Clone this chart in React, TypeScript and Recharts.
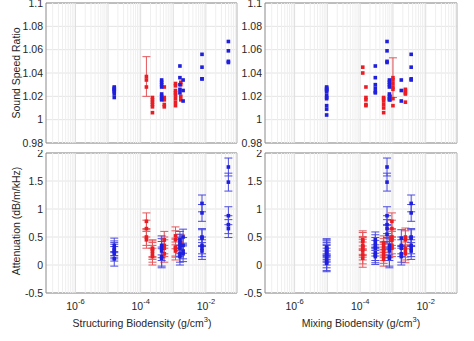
import React from 'react';
import { ScatterChart, Scatter, XAxis, YAxis, CartesianGrid, ErrorBar, ReferenceLine, ReferenceArea } from 'recharts';

const FONT = '"Liberation Sans", Arial, Helvetica, sans-serif';
const BLUE = '#1f1fdc';
const RED = '#ea1d25';
const BLUE_ERR = '#4a4ae0';
const RED_ERR = '#e5565b';
const TEXT = '#262626';

const X_DOMAIN: [number, number] = [1.25e-7, 0.09];
const X_TICKS = [1e-6, 1e-4, 1e-2];
const SSR_TICKS = [0.98, 1, 1.02, 1.04, 1.06, 1.08, 1.1];
const ATT_TICKS = [-0.5, 0, 0.5, 1, 1.5, 2];

// sound speed ratio vs structuring biodensity
const ssrStructBlueX = [1.55e-5, 4.4e-4, 1.6e-3, 2.0e-3, 7.6e-3, 4.9e-2];
const ssrStructBlueY = [
  [1.028, 1.027, 1.026, 1.025, 1.024, 1.022, 1.019],
  [1.034, 1.032, 1.03, 1.028, 1.022, 1.02, 1.018, 1.017],
  [1.046, 1.036, 1.03, 1.026, 1.023],
  [1.034, 1.025, 1.016],
  [1.056, 1.045, 1.035, 1.035],
  [1.067, 1.059, 1.05, 1.049],
];
const ssrStructRedX = [1.5e-4, 2.3e-4, 5.3e-4, 1.17e-3, 1.7e-3];
const ssrStructRedY = [
  [1.034, 1.028],
  [1.019, 1.017, 1.015, 1.013, 1.011, 1.006],
  [1.028, 1.019, 1.017, 1.013, 1.011],
  [1.031, 1.029, 1.025, 1.023, 1.021, 1.018, 1.015, 1.012],
  [1.032, 1.03, 1.02, 1.017],
];
const ssrStructRedErrPoint = { x: 1.5e-4, y: 1.037, err: 0.017 };

// sound speed ratio vs mixing biodensity
const ssrMixBlueX = [9.5e-6, 2.9e-4, 6.6e-4, 7.8e-4, 1.8e-3, 3.6e-3];
const ssrMixBlueY = [
  [1.028, 1.027, 1.026, 1.025, 1.024, 1.021, 1.019, 1.018, 1.012, 1.009, 1.004],
  [1.046, 1.036, 1.03, 1.027, 1.024, 1.023],
  [1.067, 1.059, 1.05, 1.049],
  [1.034, 1.032, 1.03, 1.028, 1.022, 1.02, 1.018, 1.017],
  [1.034, 1.025, 1.016],
  [1.056, 1.045, 1.035, 1.034],
];
const ssrMixRedX = [1.2e-4, 1.5e-4, 5.2e-4, 8.3e-4, 1.0e-3, 2.4e-3];
const ssrMixRedY = [
  [1.045, 1.04],
  [1.028, 1.019, 1.017, 1.013, 1.012],
  [1.019, 1.018, 1.016, 1.013, 1.01, 1.006],
  [1.02, 1.018, 1.017],
  [1.034, 1.031, 1.028, 1.026, 1.018, 1.012],
  [1.026, 1.025, 1.023, 1.022, 1.015],
];
const ssrMixRedErrPoint = { x: 1.0e-3, y: 1.036, err: 0.017 };

// attenuation vs structuring biodensity
const attStructBlueX = [1.55e-5, 4.4e-4, 1.6e-3, 2.0e-3, 7.6e-3, 4.9e-2];
const attStructBlueY = [
  [0.35, 0.3, 0.27, 0.24, 0.2, 0.11],
  [0.35, 0.3, 0.25, 0.15, 0.12],
  [0.45, 0.4, 0.35, 0.3, 0.2, 0.15],
  [0.5, 0.35, 0.25, 0.2],
  [1.1, 0.93, 0.5, 0.48, 0.35, 0.3, 0.25],
  [1.75, 1.48, 0.88, 0.72, 0.65],
];
const attStructBlueErr = [0.13, 0.17, 0.15, 0.14, 0.15, 0.16];
const attStructRedX = [1.5e-4, 2.3e-4, 5.3e-4, 1.17e-3, 1.7e-3];
const attStructRedY = [
  [0.78, 0.65, 0.5, 0.45],
  [0.3, 0.28, 0.25, 0.2, 0.15],
  [0.45, 0.35, 0.3, 0.2],
  [0.52, 0.45, 0.32, 0.3, 0.25],
  [0.4, 0.35],
];
const attStructRedErr = [0.15, 0.15, 0.15, 0.16, 0.14];

// attenuation vs mixing biodensity
const attMixBlueX = [9.5e-6, 2.9e-4, 6.6e-4, 7.8e-4, 1.8e-3, 3.6e-3];
const attMixBlueY = [
  [0.32, 0.3, 0.28, 0.25, 0.22, 0.2, 0.15, 0.1, 0.05, 0.03],
  [0.45, 0.4, 0.35, 0.3, 0.22, 0.18, 0.15],
  [1.75, 1.48, 0.88, 0.72, 0.65, 0.55],
  [0.35, 0.3, 0.25, 0.15, 0.12],
  [0.48, 0.35, 0.3, 0.2, 0.15],
  [1.1, 0.93, 0.5, 0.48, 0.35, 0.3, 0.25],
];
const attMixBlueErr = [0.15, 0.14, 0.16, 0.17, 0.15, 0.15];
const attMixRedX = [1.2e-4, 5.2e-4, 9.3e-4, 2.4e-3];
const attMixRedY = [
  [0.45, 0.42, 0.35, 0.33, 0.3, 0.25, 0.18, 0.12],
  [0.4, 0.35, 0.3, 0.28, 0.25, 0.2, 0.15, 0.1],
  [0.78, 0.65, 0.5, 0.45, 0.35, 0.3],
  [0.5, 0.45, 0.3, 0.25, 0.2],
];
const attMixRedErr = [0.16, 0.12, 0.15, 0.16];

type Pt = { x: number; y: number; err?: number };

function cluster(xs: number[], ys: number[][], errs?: number[]): Pt[] {
  const out: Pt[] = [];
  xs.forEach((x, i) => ys[i].forEach((y) => out.push({ x, y, err: errs ? errs[i] : undefined })));
  return out;
}

const majorGrid = [1e-6, 1e-5, 1e-4, 1e-3, 1e-2];
const minorGrid: number[] = [];
for (let e = -7; e <= -2; e++) {
  for (let m = 2; m <= 9; m++) {
    const v = Number((m * Math.pow(10, e)).toPrecision(3));
    if (v >= X_DOMAIN[0] && v <= X_DOMAIN[1]) minorGrid.push(v);
  }
}

const marker = (color: string) => (props: any) => (
  <rect x={props.cx - 1.8} y={props.cy - 1.8} width={3.6} height={3.6} fill={color} />
);

const LogTick = (props: any) => {
  const { x, y, payload } = props;
  const exp = Math.round(Math.log10(payload.value));
  return (
    <text x={x} y={y + 17} textAnchor="middle" fontSize={10.5} fontFamily={FONT} fill={TEXT}>
      10
      <tspan dy={-6} fontSize={7.5}>{exp}</tspan>
    </text>
  );
};

interface Series {
  data: Pt[];
  color: string;
  errColor?: string;
}

interface PanelProps {
  left: number;
  top: number;
  width: number;
  height: number;
  yDomain: [number, number];
  yTicks: number[];
  series: Series[];
  showX: boolean;
}

function Panel({ left, top, width, height, yDomain, yTicks, series, showX }: PanelProps) {
  return (
    <div style={{ position: 'absolute', left, top }}>
      <ScatterChart width={width} height={height} margin={{ top: 3, right: 3, bottom: showX ? 0 : 7, left: 0 }}>
        <CartesianGrid vertical={false} stroke="#e4e4e4" />
        {minorGrid.map((v) => (
          <ReferenceLine key={'m' + v} x={v} stroke="#efefef" strokeWidth={1} />
        ))}
        {majorGrid.map((v) => (
          <ReferenceLine key={'M' + v} x={v} stroke="#dedede" strokeWidth={1} />
        ))}
        <XAxis
          dataKey="x"
          type="number"
          scale="log"
          domain={X_DOMAIN}
          allowDataOverflow
          ticks={X_TICKS}
          hide={!showX}
          height={48}
          axisLine={false}
          tickLine={false}
          tickSize={0}
          tickMargin={0}
          tick={<LogTick />}
        />
        <YAxis
          dataKey="y"
          type="number"
          domain={yDomain}
          ticks={yTicks}
          allowDataOverflow
          width={46}
          axisLine={false}
          tickLine={false}
          tickSize={0}
          tickMargin={3}
          interval={0}
          tick={{ fontSize: 10.5, fontFamily: FONT, fill: TEXT }}
        />
        <ReferenceArea x1={X_DOMAIN[0]} x2={X_DOMAIN[1]} y1={yDomain[0]} y2={yDomain[1]} fill="none" stroke="#8a8a8a" strokeWidth={1} />
        {series.map((s, i) => (
          <Scatter key={i} data={s.data} fill={s.color} shape={marker(s.color)} isAnimationActive={false}>
            {s.errColor && <ErrorBar dataKey="err" direction="y" width={4} stroke={s.errColor} strokeWidth={1} />}
          </Scatter>
        ))}
      </ScatterChart>
    </div>
  );
}

export default function App() {
  return (
    <div style={{ position: 'absolute', left: 0, top: 0, width: 474, height: 341, background: '#fff', fontFamily: FONT }}>
      <Panel
        left={0}
        top={0}
        width={240}
        height={150}
        yDomain={[0.98, 1.1]}
        yTicks={SSR_TICKS}
        showX={false}
        series={[
          { data: cluster(ssrStructRedX, ssrStructRedY), color: RED },
          { data: [ssrStructRedErrPoint], color: RED, errColor: RED_ERR },
          { data: cluster(ssrStructBlueX, ssrStructBlueY), color: BLUE },
        ]}
      />
      <Panel
        left={219}
        top={0}
        width={241}
        height={150}
        yDomain={[0.98, 1.1]}
        yTicks={SSR_TICKS}
        showX={false}
        series={[
          { data: cluster(ssrMixRedX, ssrMixRedY), color: RED },
          { data: [ssrMixRedErrPoint], color: RED, errColor: RED_ERR },
          { data: cluster(ssrMixBlueX, ssrMixBlueY), color: BLUE },
        ]}
      />
      <Panel
        left={0}
        top={150}
        width={240}
        height={191}
        yDomain={[-0.5, 2]}
        yTicks={ATT_TICKS}
        showX
        series={[
          { data: cluster(attStructRedX, attStructRedY, attStructRedErr), color: RED, errColor: RED_ERR },
          { data: cluster(attStructBlueX, attStructBlueY, attStructBlueErr), color: BLUE, errColor: BLUE_ERR },
        ]}
      />
      <Panel
        left={219}
        top={150}
        width={241}
        height={191}
        yDomain={[-0.5, 2]}
        yTicks={ATT_TICKS}
        showX
        series={[
          { data: cluster(attMixRedX, attMixRedY, attMixRedErr), color: RED, errColor: RED_ERR },
          { data: cluster(attMixBlueX, attMixBlueY, attMixBlueErr), color: BLUE, errColor: BLUE_ERR },
        ]}
      />
      <svg width={474} height={341} style={{ position: 'absolute', left: 0, top: 0, pointerEvents: 'none' }}>
        <text transform="translate(20,73) rotate(-90)" textAnchor="middle" fontSize={10.5} fill={TEXT} fontFamily={FONT}>
          Sound Speed Ratio
        </text>
        <text transform="translate(20,221) rotate(-90)" textAnchor="middle" fontSize={10.5} fill={TEXT} fontFamily={FONT}>
          Attenuation (dB/m/kHz)
        </text>
        <text x={142} y={327} textAnchor="middle" fontSize={10.5} fill={TEXT} fontFamily={FONT}>
          Structuring Biodensity (g/cm<tspan dy={-5} fontSize={7.5}>3</tspan><tspan dy={5}>)</tspan>
        </text>
        <text x={361} y={327} textAnchor="middle" fontSize={10.5} fill={TEXT} fontFamily={FONT}>
          Mixing Biodensity (g/cm<tspan dy={-5} fontSize={7.5}>3</tspan><tspan dy={5}>)</tspan>
        </text>
      </svg>
    </div>
  );
}
